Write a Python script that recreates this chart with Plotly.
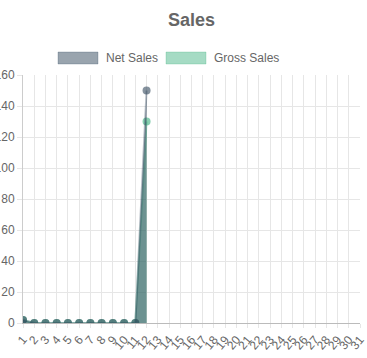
import plotly.graph_objects as go

days = [str(d) for d in range(1, 32)]
net_sales = [2, 0, 0, 0, 0, 0, 0, 0, 0, 0, 0, 150] + [None] * 19
gross_sales = [2, 0, 0, 0, 0, 0, 0, 0, 0, 0, 0, 130] + [None] * 19
y_ticks = [0, 20, 40, 60, 80, 100, 120, 140, 160]

NET_FILL = "rgba(52,73,94,0.5)"
NET_LINE = "rgba(52,73,94,0.35)"
NET_PT = "rgba(52,73,94,0.6)"
GROSS_FILL = "rgba(56,175,125,0.45)"
GROSS_LINE = "rgba(56,175,125,0.4)"
GROSS_PT = "rgba(56,175,125,0.6)"

fig = go.Figure()
fig.add_trace(go.Scatter(
    x=days, y=gross_sales, name="Gross Sales", mode="lines+markers",
    fill="tozeroy", fillcolor=GROSS_FILL,
    line=dict(color=GROSS_LINE, width=2),
    marker=dict(size=8, color=GROSS_PT, line=dict(width=0)),
    connectgaps=False, showlegend=False))
fig.add_trace(go.Scatter(
    x=days, y=net_sales, name="Net Sales", mode="lines+markers",
    fill="tozeroy", fillcolor=NET_FILL,
    line=dict(color=NET_LINE, width=2),
    marker=dict(size=8, color=NET_PT, line=dict(width=0)),
    connectgaps=False, showlegend=False))

font_family = "Liberation Sans, Arial, sans-serif"
W, H = 367, 358
L, R, T, B = 23, 7, 75, 35

fig.update_layout(
    width=W, height=H,
    margin=dict(l=L, r=R, t=T, b=B, autoexpand=False),
    paper_bgcolor="white", plot_bgcolor="white",
    font=dict(family=font_family, size=12, color="#666666"),
    title=dict(text="<b>Sales</b>", x=0.5, xanchor="center", xref="paper",
               yref="container", y=1 - 20 / H, yanchor="middle",
               font=dict(size=18, color="#666666", family=font_family)),
    showlegend=False,
    xaxis=dict(type="category", categoryorder="array", categoryarray=days,
               range=[0, 30], tickmode="linear", dtick=1, tickangle=-50,
               automargin=False, showgrid=True, gridcolor="#e6e6e6",
               gridwidth=1, ticks="outside", ticklen=4, tickcolor="#e6e6e6",
               showline=True, linecolor="#bbbbbb", tickfont=dict(size=12, color="#666666"),
               zeroline=False),
    yaxis=dict(range=[0, 160], tickvals=y_ticks, automargin=False, showgrid=True,
               gridcolor="#e6e6e6", showline=True, linecolor="#cccccc", zeroline=False,
               ticks="outside", ticklen=5, tickcolor="#e6e6e6",
               tickfont=dict(size=12, color="#666666")),
)

legend_items = [("Net Sales", 58, "rgba(52,73,94,0.5)", "rgba(52,73,94,0.25)"),
                ("Gross Sales", 166, "rgba(56,175,125,0.45)", "rgba(56,175,125,0.25)")]
shapes = []
annotations = []
pw, ph = W - L - R, H - T - B
for label, x0, fill, border in legend_items:
    shapes.append(dict(type="rect", xref="paper", yref="paper",
                       x0=(x0 - L) / pw, x1=(x0 + 40 - L) / pw,
                       y0=(H - B - 64) / ph, y1=(H - B - 52) / ph,
                       fillcolor=fill, line=dict(color=border, width=1)))
    annotations.append(dict(text=label, xref="paper", yref="paper",
                            x=(x0 + 46 - L) / pw, y=(H - B - 58) / ph,
                            xanchor="left", yanchor="middle", showarrow=False,
                            font=dict(size=12, color="#666666", family=font_family)))
fig.update_layout(shapes=shapes, annotations=annotations)

fig.write_html("out.html", config={"displayModeBar": False},
               post_script="document.body.style.margin='0';document.body.style.overflow='hidden';")
